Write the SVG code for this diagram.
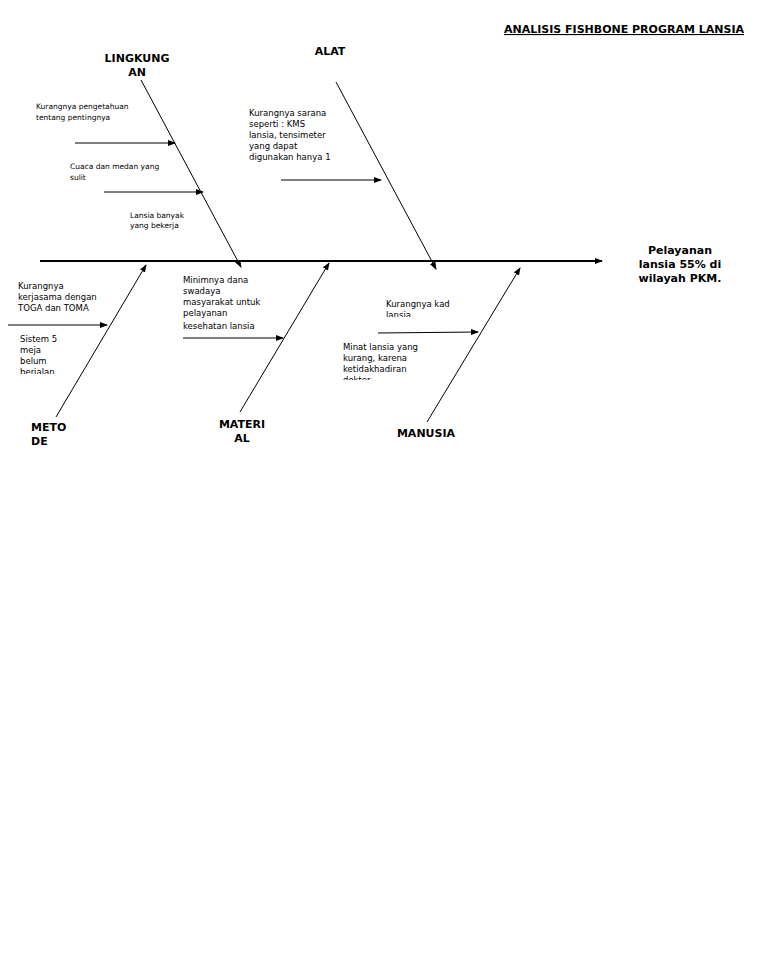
<svg xmlns="http://www.w3.org/2000/svg" width="768" height="978" viewBox="0 0 768 978">
<style>
text{font-family:"DejaVu Sans",sans-serif;fill:#000}
.s{font-size:8.5px}
.xs{font-size:7.5px}
.b{font-size:11px;font-weight:bold}
.ln{stroke:#000;stroke-width:1;fill:none}
.sp{stroke:#000;stroke-width:2;fill:none}
</style>
<defs>
<marker id="a" markerWidth="8" markerHeight="6" refX="7" refY="3" orient="auto" markerUnits="userSpaceOnUse"><path d="M0,0L8,3L0,6z" fill="#000"/></marker>
<clipPath id="c1"><rect x="0" y="330" width="80" height="44"/></clipPath>
<clipPath id="c2"><rect x="330" y="290" width="120" height="27"/></clipPath>
<clipPath id="c3"><rect x="330" y="340" width="120" height="40"/></clipPath>
<clipPath id="c4"><rect x="30" y="98" width="130" height="24"/></clipPath>
</defs>
<rect width="768" height="978" fill="#fff"/>
<text x="744" y="33" text-anchor="end" style="font-size:11px;font-weight:bold;text-decoration:underline">ANALISIS FISHBONE PROGRAM LANSIA</text>
<g id="connectors">
<line class="sp" x1="40" y1="261" x2="602" y2="261" marker-end="url(#a)"/>
<line class="ln" x1="141" y1="80" x2="241" y2="267" marker-end="url(#a)"/>
<line class="ln" x1="336" y1="82" x2="436" y2="269" marker-end="url(#a)"/>
<line class="ln" x1="56" y1="417" x2="146" y2="265" marker-end="url(#a)"/>
<line class="ln" x1="240" y1="412" x2="329" y2="263" marker-end="url(#a)"/>
<line class="ln" x1="427" y1="422" x2="520" y2="268" marker-end="url(#a)"/>
<line class="ln" x1="75" y1="143" x2="175" y2="143" marker-end="url(#a)"/>
<line class="ln" x1="104" y1="192" x2="203" y2="192" marker-end="url(#a)"/>
<line class="ln" x1="281" y1="180" x2="381" y2="180" marker-end="url(#a)"/>
<line class="ln" x1="8" y1="325" x2="107" y2="325" marker-end="url(#a)"/>
<line class="ln" x1="183" y1="338" x2="283" y2="338" marker-end="url(#a)"/>
<line class="ln" x1="378" y1="333" x2="478" y2="332" marker-end="url(#a)"/>
</g>
<g id="lingkungan"><text class="b" x="137" y="62" text-anchor="middle">LINGKUNG</text><text class="b" x="137" y="76" text-anchor="middle">AN</text></g>
<g id="alat"><text class="b" x="330" y="55" text-anchor="middle">ALAT</text></g>
<g id="metode"><text class="b" x="31" y="431">METO</text><text class="b" x="31" y="445">DE</text></g>
<g id="material"><text class="b" x="242" y="428" text-anchor="middle">MATERI</text><text class="b" x="242" y="442" text-anchor="middle">AL</text></g>
<g id="manusia"><text class="b" x="426" y="437" text-anchor="middle">MANUSIA</text></g>
<g id="effect"><text class="b" x="680" y="254" text-anchor="middle">Pelayanan</text><text class="b" x="680" y="268" text-anchor="middle">lansia 55% di</text><text class="b" x="680" y="282" text-anchor="middle">wilayah PKM.</text></g>
<g id="c-peng" clip-path="url(#c4)"><text class="xs" x="36" y="109">Kurangnya    pengetahuan</text><text class="xs" x="36" y="120">tentang           pentingnya</text></g>
<g id="c-cuaca"><text class="xs" x="70" y="169">Cuaca dan medan yang</text><text class="xs" x="70" y="180">sulit</text></g>
<g id="c-lansia"><text class="xs" x="130" y="218">Lansia banyak</text><text class="xs" x="130" y="228">yang bekerja</text></g>
<g id="c-sarana"><text class="s" x="249" y="116">Kurangnya sarana</text><text class="s" x="249" y="127">seperti : KMS</text><text class="s" x="249" y="138">lansia,  tensimeter</text><text class="s" x="249" y="149">yang dapat</text><text class="s" x="249" y="160">digunakan hanya 1</text></g>
<g id="c-toga"><text class="s" x="18" y="289">Kurangnya</text><text class="s" x="18" y="300">kerjasama dengan</text><text class="s" x="18" y="311">TOGA dan TOMA</text></g>
<g id="c-sistem" clip-path="url(#c1)"><text class="s" x="20" y="342">Sistem 5</text><text class="s" x="20" y="353">meja</text><text class="s" x="20" y="364">belum</text><text class="s" x="20" y="375">berjalan</text></g>
<g id="c-dana"><text class="s" x="183" y="283">Minimnya dana</text><text class="s" x="183" y="294">swadaya</text><text class="s" x="183" y="305">masyarakat untuk</text><text class="s" x="183" y="316">pelayanan</text><text class="s" x="183" y="329">kesehatan lansia</text></g>
<g id="c-kader" clip-path="url(#c2)"><text class="s" x="386" y="307">Kurangnya kader</text><text class="s" x="386" y="318">lansia</text></g>
<g id="c-minat" clip-path="url(#c3)"><text class="s" x="343" y="350">Minat lansia yang</text><text class="s" x="343" y="361">kurang, karena</text><text class="s" x="343" y="372">ketidakhadiran</text><text class="s" x="343" y="383">dokter</text></g>
</svg>
